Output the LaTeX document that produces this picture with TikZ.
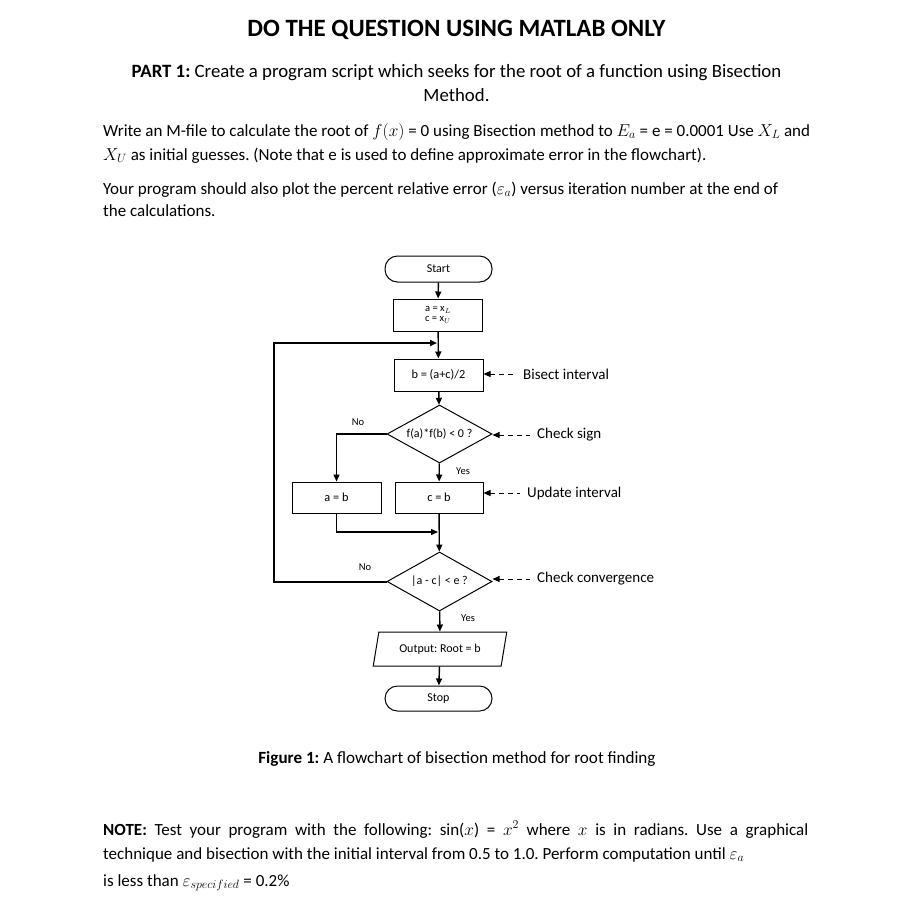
\documentclass[tikz,border=0pt]{standalone}
\usepackage{fontspec}
\setmainfont{Carlito}
\usetikzlibrary{shapes.geometric,arrows.meta}
\newcommand{\fsz}[1]{\fontsize{#1}{#1}\selectfont}
\frenchspacing

\begin{document}
\begin{tikzpicture}[x=1pt,y=-1pt,
  box/.style={draw, line width=1pt, minimum width=89pt, minimum height=32pt, inner sep=0pt, font=\fsz{12.3}},
  term/.style={draw, line width=1pt, rounded corners=12.5pt, minimum width=107pt, minimum height=26pt, inner sep=0pt, font=\fsz{12}},
  decide/.style={draw, diamond, line width=1pt, shape aspect=2, minimum width=105pt, minimum height=58pt, inner sep=0pt, font=\fsz{12}},
  flow/.style={line width=1.4pt, -{Triangle[length=7pt,width=6pt]}},
  note/.style={dash pattern=on 5pt off 4pt, line width=1pt, {Triangle[length=7pt,width=6pt]}-, shorten >=7pt},
  side/.style={anchor=west, inner sep=0pt, font=\fsz{15}},
  yn/.style={font=\fsz{10.5}},
  txt/.style={anchor=base west, inner sep=0pt, font=\fsz{17}}]
\useasboundingbox[fill=white] (0,0) rectangle (917,913);
%HEADING
\draw (456.5,36) node[anchor=base, inner sep=0pt, font=\fsz{24.9}\bfseries] (title) {DO THE QUESTION USING MATLAB ONLY};
\draw (456.5,77) node[anchor=base, inner sep=0pt, font=\fsz{18.8}] (part) {\textbf{PART 1:} Create a program script which seeks for the root of a function using Bisection};
\draw (456.5,101) node[anchor=base, inner sep=0pt, font=\fsz{18.8}] (method) {Method.};
%TASK TEXT
\draw (103,136) node[txt] (task1) {Write an M-file to calculate the root of $f(x)$ = 0 using Bisection method to $E_a$ = e = 0.0001 Use $X_L$ and};
\draw (103,160) node[txt] (task2) {$X_U$ as initial guesses. (Note that e is used to define approximate error in the flowchart).};
\draw (103,194) node[txt] (plot1) {Your program should also plot the percent relative error ($\varepsilon_a$) versus iteration number at the end of};
\draw (103,216) node[txt] (plot2) {the calculations.};
%FLOWCHART NODES
\draw (438.5,269) node[term] (start) {Start};
\draw (438,315) node[box, align=center, font=\fsz{10.5}] (init) {a = x$_L$\\[-1pt] c = x$_U$};
\draw (438.5,375) node[box] (bisect) {b = (a+c)/2};
\draw (439.5,434) node[decide] (sign) {f(a)*f(b) < 0 ?};
\draw (336.5,497.5) node[box, minimum height=31pt] (lower) {a = b};
\draw (439,497.5) node[box, minimum width=88pt, minimum height=31pt] (upper) {c = b};
\draw (439.5,581.5) node[decide, minimum height=59pt] (check) {|a - c| < e ?};
\draw (440,649) node[draw, trapezium, trapezium left angle=70, trapezium right angle=110, trapezium stretches=true, line width=1pt, minimum width=134pt, minimum height=34pt, inner sep=0pt, font=\fsz{12}] (out) {Output: Root = b};
\draw (438.5,698.5) node[term, minimum height=25pt] (stop) {Stop};
\coordinate (loopL) at (274,581.5);
\coordinate (loopT) at (437,343);
\coordinate (merge) at (438,532);
%SPINE ARROWS
\draw[flow] (start) -- (init);
\draw[flow] (init) -- (bisect);
\draw[flow] (bisect) -- (sign);
\draw[flow] (sign) -- (upper);
\draw[flow] (upper) -- (check);
\draw[flow] (check) -- (out);
\draw[flow] (out) -- (stop);
%sign to a = b
\draw[flow] (sign.west) -| (lower.north);
%a = b to merge
\draw[flow] (lower.south) |- (merge);
%check back to bisect
\draw[flow, line width=2pt] (check.west) -- (loopL) |- (loopT);
%YES / NO
\draw (358,422) node[yn] (no1) {No};
\draw (463,471) node[yn] (yes1) {Yes};
\draw (365,567) node[yn] (no2) {No};
\draw (468,618) node[yn] (yes2) {Yes};
%SIDE NOTES
\draw (523,374) node[side] (nbisect) {Bisect interval};
\draw (537,435) node[side] (nsign) {Check sign};
\draw (527,493) node[side] (nupdate) {Update interval};
\draw (537,579) node[side] (ncheck) {Check convergence};
\draw[note] (nbisect.west -| bisect.east) -- (nbisect.west);
\draw[note] (nsign.west -| sign.east) -- (nsign.west);
\draw[note] (nupdate.west -| upper.east) -- (nupdate.west);
\draw[note] (ncheck.west -| check.east) -- (ncheck.west);
%CAPTION
\draw (457,763) node[anchor=base, inner sep=0pt, font=\fsz{17.1}] (caption) {\textbf{Figure 1:} A flowchart of bisection method for root finding};
%NOTE TEXT
\draw (103,835) node[txt] (test1) {\makebox[705pt][s]{\textbf{NOTE:} Test your program with the following: sin($x$) = $x^2$ where $x$ is in radians. Use a graphical}};
\draw (103,859) node[txt] (test2) {technique and bisection with the initial interval from 0.5 to 1.0. Perform computation until $\varepsilon_a$};
\draw (103,886) node[txt] (test3) {is less than $\varepsilon_{specified}$ = 0.2\%};
\end{tikzpicture}
\end{document}
